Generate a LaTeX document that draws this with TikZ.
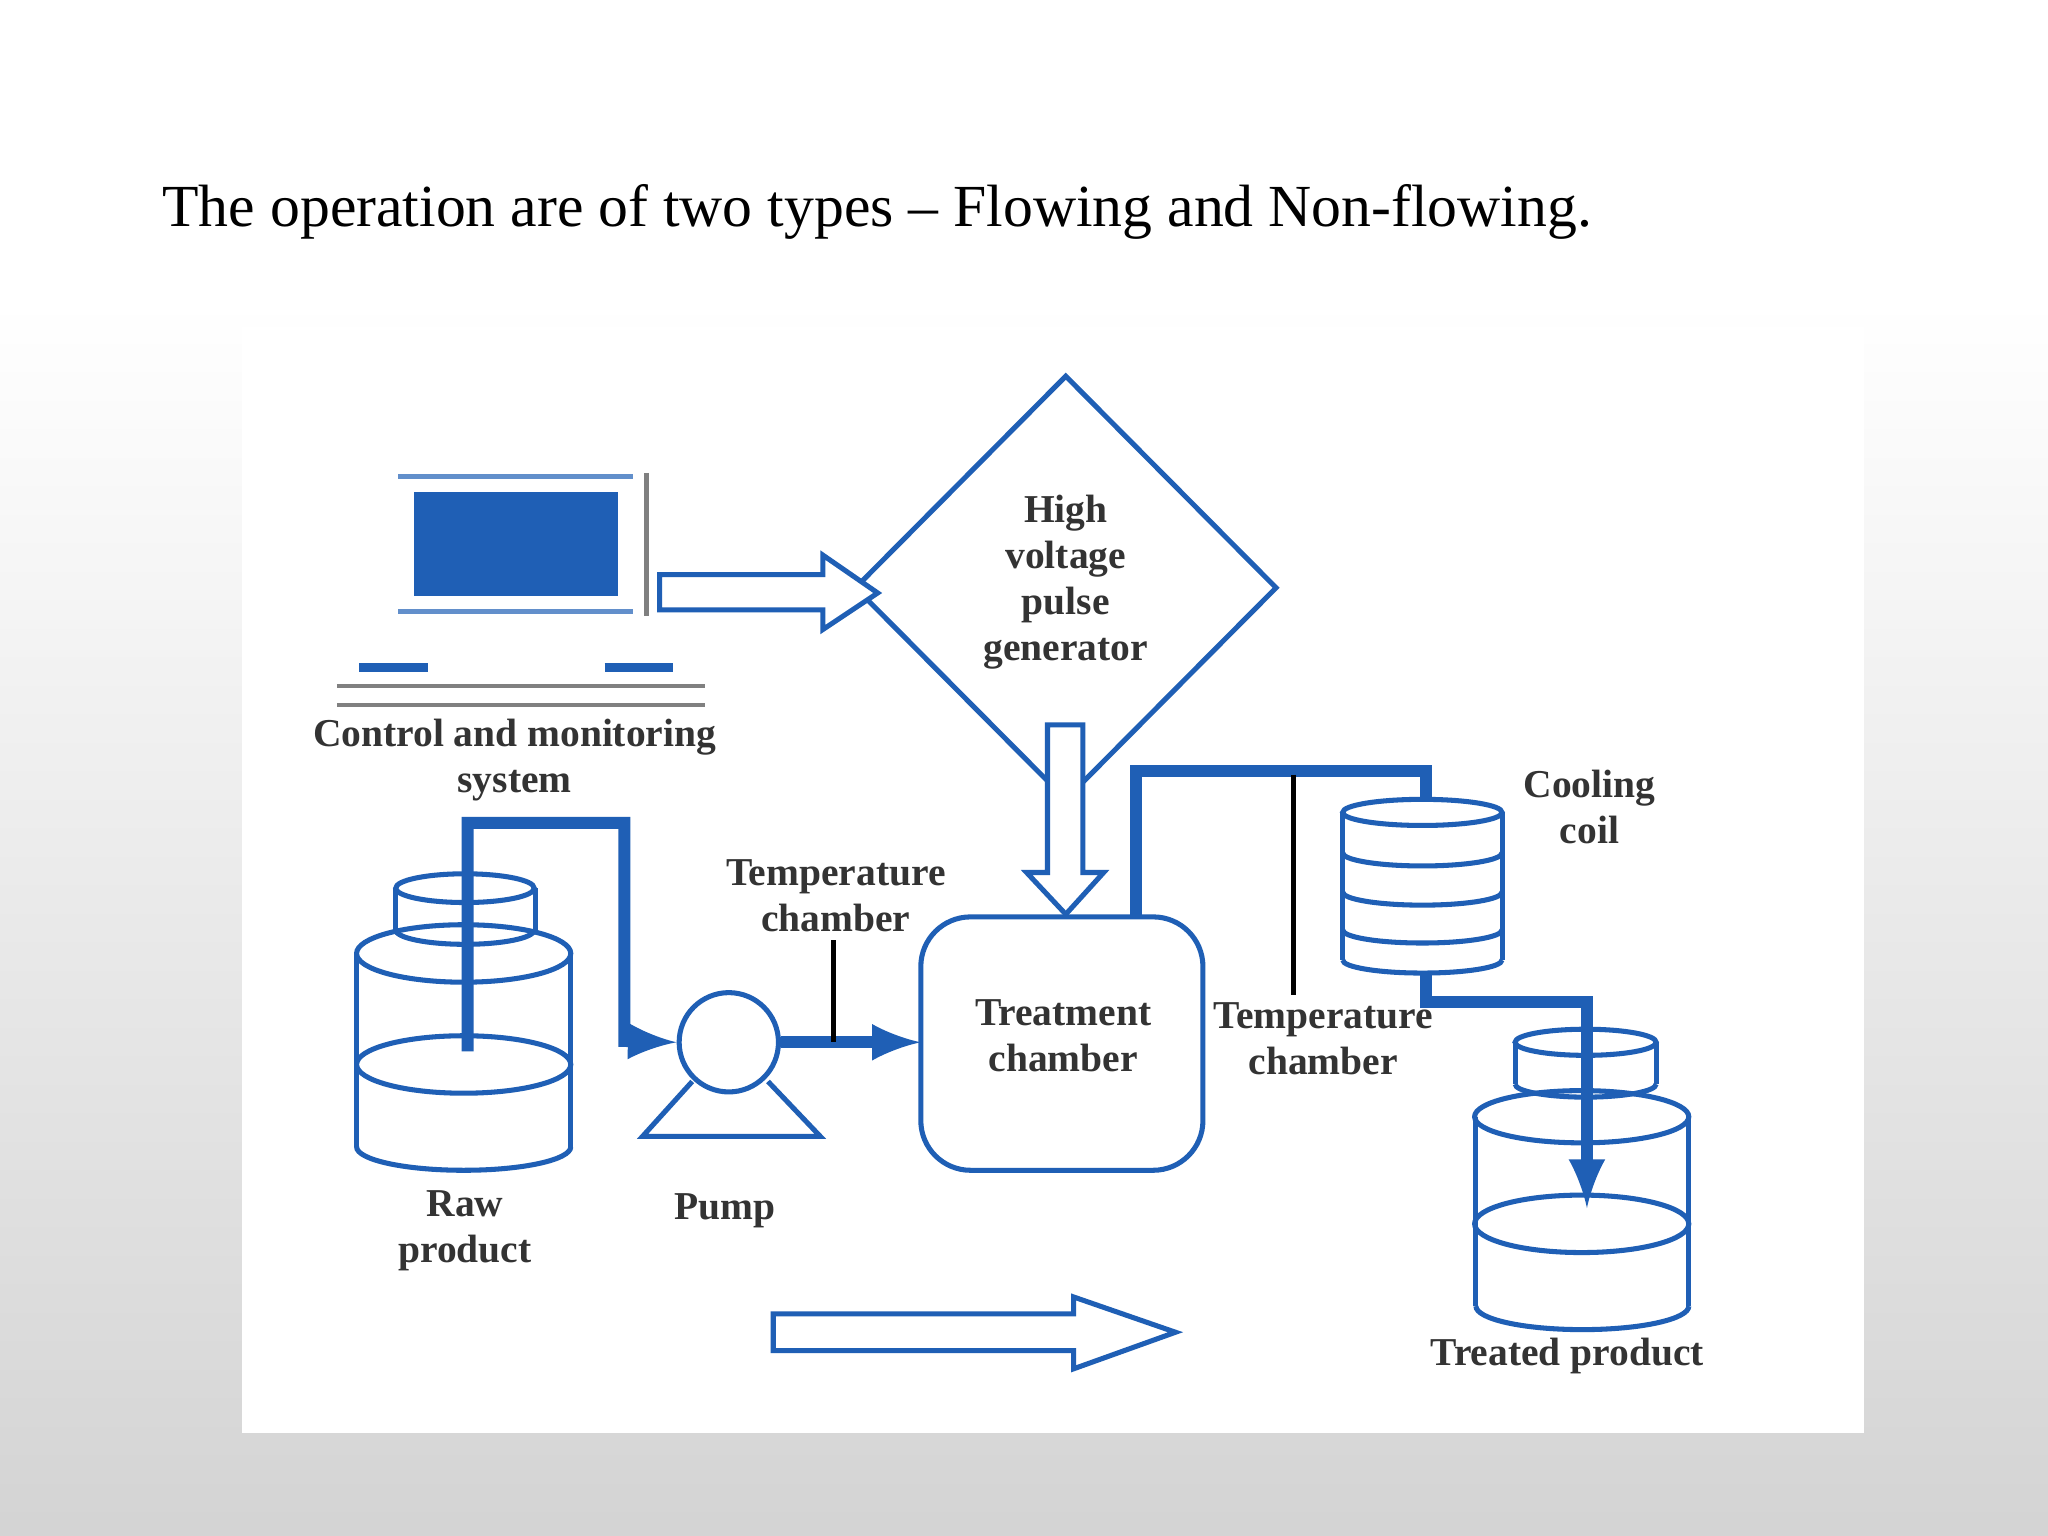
\documentclass[tikz,border=0pt]{standalone}
\usepackage{fontspec}
\setmainfont{Liberation Serif}
\begin{document}
\begin{tikzpicture}[x=0.01cm,y=-0.01cm,
 bl/.style={draw=dblue,line width=1.1pt},
 pipe/.style={draw=dblue,line width=2.6pt},
 lab/.style={font=\bfseries\fontsize{8.6}{10}\selectfont,align=center,text=black!80},
 hollow/.style={draw=dblue,line width=1.1pt,fill=white,line join=miter}]
\definecolor{dblue}{HTML}{1F5FB5}
\useasboundingbox (0,0) rectangle (1568,1176);
\fill[white] (0,0) rectangle (1568,230);
\shade[top color=white,bottom color=black!17] (0,230) rectangle (1568,1176);
\fill[white] (185,250) rectangle (1427,1097);
\node[anchor=west,font=\fontsize{13}{16}\selectfont] (title) at (112,162) {The operation are of two types -- Flowing and Non-flowing.};
% computer
\draw[bl,draw=dblue!70] (305,365)--(485,365) (305,468)--(485,468);
\fill[dblue] (317,377) rectangle (473,456);
\draw[gray,line width=1pt] (495,362)--(495,472);
\draw[dblue,line width=1.8pt] (275,511)--(328,511) (463,511)--(515,511);
\draw[gray,line width=0.9pt] (258,525)--(540,525) (258,540)--(540,540);
\node[lab] (ctl) at (394,582) {Control and monitoring\\system};
% diamond
\draw[bl] (816,288)--(977,450)--(816,612)--(655,450)--cycle;
\node[lab] (hv) at (816,446) {High\\voltage\\pulse\\generator};
\draw[hollow] (505,440)--(630,440)--(630,425)--(672,454)--(630,482)--(630,467)--(505,467)--cycle;
\draw[hollow] (802,555)--(829,555)--(829,668)--(845,668)--(816,700)--(786,668)--(802,668)--cycle;
% treatment chamber
\draw[bl,rounded corners=0.38cm] (705,702) rectangle (921,896);
\coordinate (tcw) at (705,798);
\node[lab] (tc) at (814,793) {Treatment\\chamber};
% raw tank
\draw[bl] (273,730)--(273,878) (437,730)--(437,878);
\draw[bl] (355,730) ellipse (82 and 22);
\draw[bl] (273,878) arc (180:0:82 and 18);
\draw[bl] (355,815) ellipse (82 and 22);
\draw[bl] (356,680) ellipse (53 and 11);
\draw[bl] (303,680)--(303,712) (410,680)--(410,712);
\draw[bl] (303,712) arc (180:0:53 and 11);
\node[lab] (raw) at (356,942) {Raw\\product};
% pump
\node[circle,bl,minimum size=0.76cm,inner sep=0,fill=white] (pump) at (558,798) {};
\draw[bl] (530,828)--(492,870)--(628,870)--(588,828);
\node[lab] (pl) at (555,927) {Pump};
\draw[pipe,-latex] (358,805)--(358,630)--(478,630)--(478,797)--(pump.west);
\draw[pipe,-latex] (pump.east)--(tcw);
\draw[black,line width=1.1pt] (638,720)--(638,798);
\node[lab] (t1) at (640,686) {Temperature\\chamber};
% cooling coil
\draw[bl] (1028,622)--(1028,735) (1150,622)--(1150,735);
\draw[bl] (1089,622) ellipse (61 and 10);
\foreach \yy in {653,683,712,735}{\draw[bl] (1028,\yy) arc (180:0:61 and 10);}
\node[lab] (cc) at (1217,618) {Cooling\\coil};
\draw[pipe] (870,702)--(870,590)--(1092,590)--(1092,612);
\draw[black,line width=1.1pt] (990,593)--(990,762);
\node[lab] (t2) at (1013,795) {Temperature\\chamber};
% treated tank
\draw[bl] (1130,855)--(1130,1000) (1293,855)--(1293,1000);
\draw[bl] (1211,855) ellipse (82 and 20);
\draw[bl] (1130,1000) arc (180:0:81.5 and 18);
\draw[bl] (1211,937) ellipse (82 and 22);
\draw[bl] (1214,798) ellipse (54 and 10);
\draw[bl] (1160,798)--(1160,830) (1268,798)--(1268,830);
\draw[bl] (1160,830) arc (180:0:54 and 10);
\draw[pipe,-latex] (1092,745)--(1092,767)--(1215,767)--(1215,925);
\node[lab] (tp) at (1200,1038) {Treated product};
\draw[hollow] (592,1006)--(822,1006)--(822,993)--(900,1020)--(822,1048)--(822,1034)--(592,1034)--cycle;
\end{tikzpicture}
\end{document}
